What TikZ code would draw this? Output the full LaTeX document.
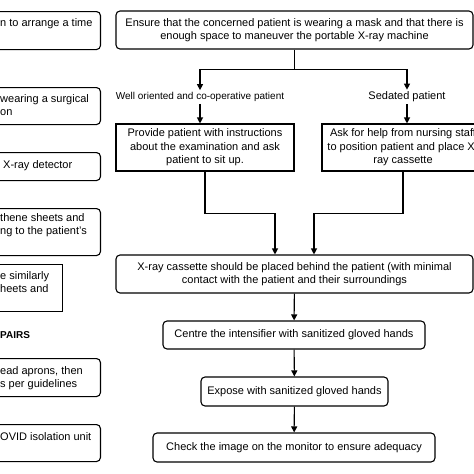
\documentclass[tikz,border=0pt]{standalone}
\usepackage{fontspec}
\setmainfont{Liberation Sans}
\usetikzlibrary{arrows.meta}

\begin{document}
\begin{tikzpicture}[x=1pt, y=-1pt,
	box/.style={draw, line width=1.1pt, rounded corners=4pt, align=center, inner sep=3pt, font=\fontsize{11pt}{13.5pt}\selectfont},
	sqbox/.style={box, rounded corners=0pt},
	lab/.style={inner sep=2pt, font=\fontsize{10pt}{12pt}\selectfont},
	ltext/.style={anchor=west, align=left, inner sep=0pt, font=\fontsize{11pt}{13pt}\selectfont},
	arr/.style={line width=1.1pt, -{Triangle[length=6pt, width=6pt]}},
	conn/.style={line width=1.1pt}]
		\useasboundingbox (0,0) rectangle (474,474);
		\clip (0,0) rectangle (474,474);
		
		% Left column (cut off)
		\node[box, minimum width=200pt, minimum height=38pt, anchor=north east] (l1) at (101,11) {};
		\node[ltext] (t1) at (0,24) {n to arrange a time};
		\node[box, minimum width=200pt, minimum height=37pt, anchor=north east] (l2) at (101,87) {};
		\node[ltext] (t2) at (0,105.5) {wearing a surgical\\on};
		\node[box, minimum width=200pt, minimum height=28pt, anchor=north east] (l3) at (101,152) {};
		\node[ltext] (t3) at (3,166) {X-ray detector};
		\node[box, minimum width=200pt, minimum height=47pt, anchor=north east] (l4) at (101,208) {};
		\node[ltext] (t4) at (0,225.5) {thene sheets and\\ng to the patient's};
		\node[sqbox, minimum width=150pt, minimum height=47pt, anchor=north east] (l5) at (63,264) {};
		\node[ltext] (t5) at (0,282) {e similarly\\heets and};
		\node[ltext, font=\fontsize{10pt}{12pt}\selectfont\bfseries] (t6) at (0,335) {PAIRS};
		\node[box, minimum width=200pt, minimum height=38pt, anchor=north east] (l7) at (101,358) {};
		\node[ltext] (t7) at (0,378) {ead aprons, then\\s per guidelines};
		\node[box, minimum width=200pt, minimum height=37pt, anchor=north east] (l8) at (101,424) {};
		\node[ltext] (t8) at (0,437) {OVID isolation unit};
		
		% Main flow
		\node[box, minimum width=357pt, minimum height=38pt] (mask) at (294.5,30) {Ensure that the concerned patient is wearing a mask and that there is\\enough space to maneuver the portable X-ray machine};
		\node[lab] (well) at (200,97) {Well oriented and co-operative patient};
		\node[lab, font=\fontsize{11pt}{13pt}\selectfont] (sed) at (407,97) {Sedated patient};
		\node[sqbox, minimum width=178pt, minimum height=47pt] (instr) at (205,147.5) {Provide patient with instructions\\about the examination and ask\\patient to sit up.};
		\node[sqbox, minimum width=162pt, minimum height=47pt] (nurse) at (403,147.5) {Ask for help from nursing staff\\to position patient and place X-\\ray cassette};
		\node[box, minimum width=357pt, minimum height=38pt] (cas) at (294.5,274) {X-ray cassette should be placed behind the patient (with minimal\\contact with the patient and their surroundings};
		\node[box, minimum width=262pt, minimum height=28pt] (centre) at (294,335) {Centre the intensifier with sanitized gloved hands};
		\node[box, minimum width=187pt, minimum height=29pt] (expose) at (294.5,391.5) {Expose with sanitized gloved hands};
		\node[box, minimum width=282pt, minimum height=29pt] (check) at (294,447.5) {Check the image on the monitor to ensure adequacy};
		
		% Branches
		\draw[conn] (mask.south) -- ++(0,20) coordinate (split);
		\draw[arr] (split) -| (well.north);
		\draw[arr] (split) -| (sed.north);
		\draw[arr] (well.south) -- (well.south |- instr.north);
		\draw[arr] (sed.south) -- (sed.south |- nurse.north);
		
		% Merge
		\draw[arr] (instr.south) -- ++(0,42) -| ([xshift=-19.5pt]cas.north);
		\draw[arr] (nurse.south) -- ++(0,42) -| ([xshift=19.5pt]cas.north);
		\draw[arr] (cas) -- (centre);
		\draw[arr] (centre) -- (expose);
		\draw[arr] (expose) -- (check);
	\end{tikzpicture}
\end{document}
